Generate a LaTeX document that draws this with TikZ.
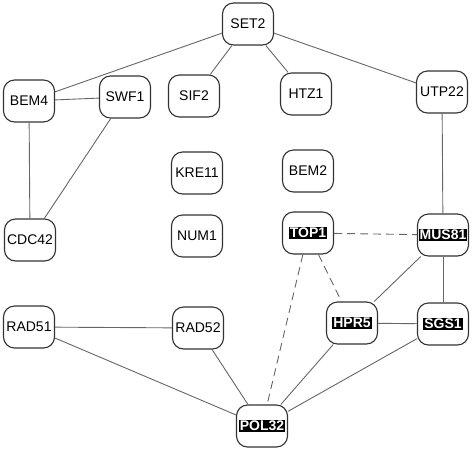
\documentclass[tikz,border=0pt]{standalone}
\usepackage{fontspec}
\setmainfont{Liberation Sans}
\newcommand{\hit}[1]{{\setlength{\fboxsep}{1pt}\colorbox{black}{\textcolor{white}{\bfseries #1}}}}
\begin{document}
\begin{tikzpicture}[x=1pt, y=-1pt, font=\fontsize{14}{16}\selectfont,
  gene/.style={draw=black!80, line width=1.1pt, rounded corners=11pt, minimum width=51pt, minimum height=42pt, inner sep=0pt, fill=white},
  link/.style={draw=black!60, line width=0.9pt},
  weak/.style={link, dash pattern=on 8pt off 5pt}]
\useasboundingbox (0,0) rectangle (474,451);
\node[gene] (set2) at (248,24) {SET2};
\node[gene] (bem4) at (29,101) {BEM4};
\node[gene] (swf1) at (125,97) {SWF1};
\node[gene] (sif2) at (194,96) {SIF2};
\node[gene] (htz1) at (306,94) {HTZ1};
\node[gene] (utp22) at (442,92) {UTP22};
\node[gene] (kre11) at (197,173) {KRE11};
\node[gene] (bem2) at (308,171) {BEM2};
\node[gene] (cdc42) at (30,240) {CDC42};
\node[gene] (num1) at (197,236) {NUM1};
\node[gene] (top1) at (308,233) {\hit{TOP1}};
\node[gene] (mus81) at (443,235) {\hit{MUS81}};
\node[gene] (rad51) at (29,327) {RAD51};
\node[gene] (rad52) at (198,328) {RAD52};
\node[gene] (hpr5) at (352,323) {\hit{HPR5}};
\node[gene] (sgs1) at (443,324) {\hit{SGS1}};
\node[gene] (pol32) at (262,426) {\hit{POL32}};
% interactions
\draw[link] (set2) -- (bem4);
\draw[link] (set2) -- (sif2);
\draw[link] (set2) -- (htz1);
\draw[link] (set2) -- (utp22);
\draw[link] (bem4) -- (swf1);
\draw[link] (bem4) -- (cdc42);
\draw[link] (swf1) -- (cdc42);
\draw[link] (utp22) -- (mus81);
\draw[link] (mus81) -- (hpr5);
\draw[link] (mus81) -- (sgs1);
\draw[link] (hpr5) -- (sgs1);
\draw[link] (hpr5) -- (pol32);
\draw[link] (sgs1) -- (pol32);
\draw[link] (rad51) -- (rad52);
\draw[link] (rad51) -- (pol32);
\draw[link] (rad52) -- (pol32);
% weak interactions
\draw[weak] (top1) -- (mus81);
\draw[weak] (top1) -- (hpr5);
\draw[weak] (top1) -- (pol32);
\end{tikzpicture}
\end{document}
